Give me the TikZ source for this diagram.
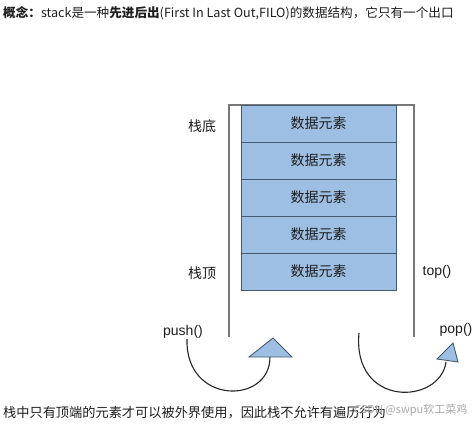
\documentclass[tikz,border=0pt]{standalone}
\usepackage{fontspec}
\setmainfont{Noto Sans CJK SC}
\newfontfamily\cjk{Noto Sans CJK SC}
\newfontfamily\lat{Liberation Sans}
\definecolor{blockfill}{RGB}{157,191,227}
\definecolor{blockline}{RGB}{70,90,115}
\definecolor{wallgray}{RGB}{120,120,120}
\definecolor{txt}{RGB}{30,30,30}
\definecolor{wm}{RGB}{170,170,170}
\begin{document}
\begin{tikzpicture}[x=1pt,y=-1pt,
  blockbox/.style={draw=blockline,fill=blockfill,line width=0.9pt,minimum width=155pt,minimum height=37pt,inner sep=0pt,font=\cjk\fontsize{14}{16}\selectfont,text=txt},
  cjklbl/.style={inner sep=0pt,font=\cjk\fontsize{14}{16}\selectfont,text=txt},
  funlbl/.style={inner sep=0pt,font=\lat\fontsize{14}{16}\selectfont,text=txt},
  wall/.style={draw=wallgray,line width=1.1pt},
  arcline/.style={draw=black!85,line width=1.1pt},
  tri/.style={draw=blockline,fill=blockfill,line width=0.9pt,line join=miter}]
\useasboundingbox (0,0) rectangle (474,424);
\fill[white] (0,0) rectangle (474,424);
% heading
\node[anchor=west,inner sep=0pt,font=\cjk\fontsize{12.6}{14}\selectfont,text=txt] (head) at (3,13)
  {\textbf{概念：}stack是一种\textbf{先进后出}(First In Last Out,FILO)的数据结构，它只有一个出口};
% container
\draw[wall] (229,337) -- (229,105) -- (414,105) -- (414,337);
% blocks
\node[blockbox] (b1) at (318.5,123.5) {数据元素};
\node[blockbox] (b2) at (318.5,160.5) {数据元素};
\node[blockbox] (b3) at (318.5,197.5) {数据元素};
\node[blockbox] (b4) at (318.5,234.5) {数据元素};
\node[blockbox] (b5) at (318.5,271.5) {数据元素};
% labels
\node[cjklbl] (bottom) at (202,126) {栈底};
\node[cjklbl] (topl) at (202,273) {栈顶};
\node[funlbl] (topf) at (437,272) {top()};
\node[funlbl] (push) at (183,332) {push()};
\node[funlbl] (pop) at (456,330) {pop()};
% push arrow
\coordinate (ps) at (187,339);
\coordinate (pe) at (270,357);
\draw[arcline] (ps) .. controls (185,405) and (270,405) .. (pe);
\filldraw[tri] (249,357) -- (292,357) -- (273,338) -- cycle;
% pop arrow
\coordinate (qs) at (359,333);
\coordinate (qe) at (446,362);
\draw[arcline] (qs) .. controls (352,408) and (440,405) .. (qe);
\filldraw[tri] (437,359) -- (458,362) -- (453,343) -- cycle;
% footer
\node[anchor=west,inner sep=0pt,font=\cjk\fontsize{13.2}{15}\selectfont,text=txt] (foot) at (3,413)
  {栈中只有顶端的元素才可以被外界使用，因此栈不允许有遍历行为};
\node[anchor=west,inner sep=0pt,font=\cjk\fontsize{11}{13}\selectfont,text=wm] (mark) at (354,410)
  {CSDN @swpu软工菜鸡};
\end{tikzpicture}
\end{document}
